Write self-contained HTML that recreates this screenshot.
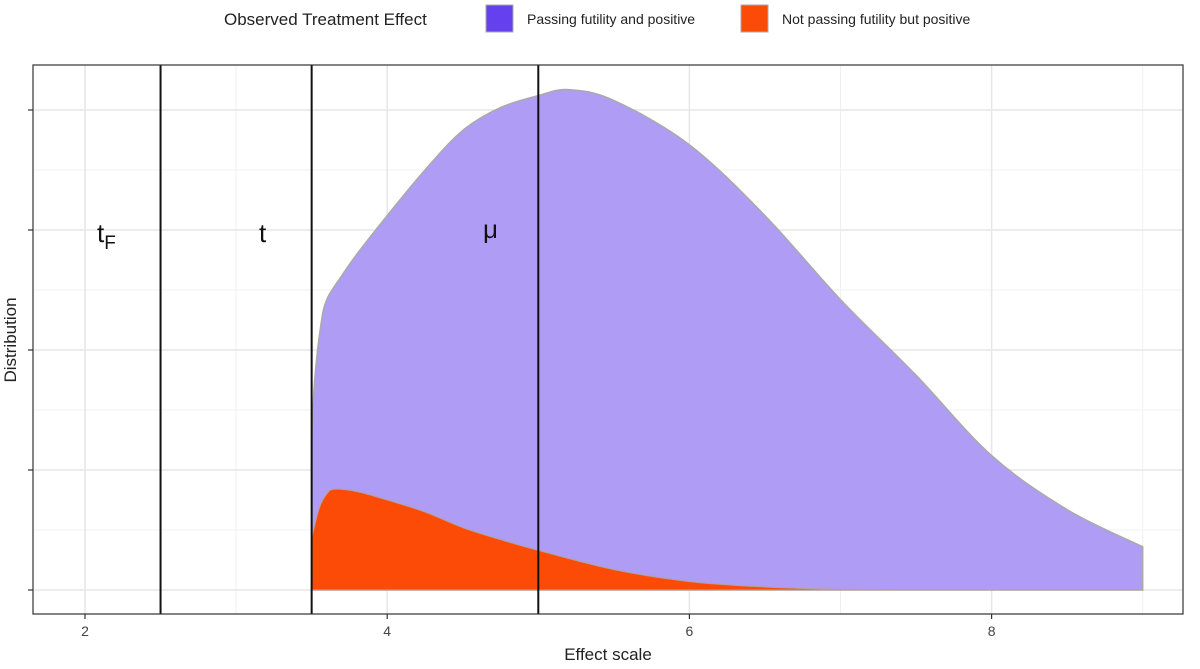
<!DOCTYPE html>
<html><head><meta charset="utf-8"><style>
body{margin:0;background:#fff;font-family:"Liberation Sans",sans-serif}
</style></head><body>
<svg width="1200" height="664" xmlns="http://www.w3.org/2000/svg" font-family="Liberation Sans, sans-serif">
<g>
<text x="224" y="25" font-size="17" fill="#222">Observed Treatment Effect</text>
<rect x="486" y="5" width="27" height="27" fill="#6540ee" stroke="#aaa"/>
<text x="527" y="24" font-size="14" fill="#222">Passing futility and positive</text>
<rect x="741" y="5" width="27" height="27" fill="#fc4a07" stroke="#aaa"/>
<text x="782" y="24" font-size="14" fill="#222">Not passing futility but positive</text>
</g>
<g id="grid"></g>
<g id="marks"></g>
<g id="vlines"></g>
<rect x="33" y="65" width="1150" height="549" fill="none" stroke="#333" stroke-width="1.2"/>
<g id="axes"></g>
<text x="97" y="242" font-size="26" fill="#111">t<tspan font-size="19" dy="7">F</tspan></text>
<text x="259" y="242" font-size="26" fill="#111">t</text>
<text x="483" y="238" font-size="26" fill="#111">μ</text>
<text x="608" y="660" font-size="17" text-anchor="middle" fill="#222">Effect scale</text>
<text transform="translate(16,340) rotate(-90)" font-size="17" text-anchor="middle" fill="#222">Distribution</text>
</svg>
<script>
const xs=[3.5,3.52,3.56,3.6,3.7,3.8,4.0,4.25,4.5,4.75,5.0,5.2,5.5,6.0,6.5,7.0,7.5,8.0,8.5,9.0];
const totalVals=[1.25,1.75,2.2,2.42,2.62,2.8,3.12,3.5,3.83,4.02,4.12,4.17,4.08,3.71,3.12,2.42,1.79,1.12,0.67,0.36];
const orangeX=[3.5,3.55,3.6,3.65,3.8,4.0,4.25,4.5,4.75,5.0,5.5,6.0,6.5,7.0,7.5,8.0,9.0];
const orangeVals=[0.43,0.68,0.8,0.84,0.82,0.75,0.65,0.52,0.42,0.33,0.17,0.07,0.025,0.005,0,0,0];
const xTicks=[2,4,6,8];
const xMinor=[3,5,7,9];
const yMajor=[0,1,2,3,4];
const yMinor=[0.5,1.5,2.5,3.5];
const vLines=[2.5,3.5,5.0];
const X=v=>85+(v-2)*151.1, Y=v=>590-v*120;
const NS="http://www.w3.org/2000/svg";
function mk(parent,tag,attrs){const e=document.createElementNS(NS,tag);for(const k in attrs)e.setAttribute(k,attrs[k]);document.getElementById(parent).appendChild(e);return e;}
yMinor.forEach(v=>{const e=mk('grid','line',{x1:33,x2:1183,y1:Y(v),y2:Y(v),stroke:'#f0f0f0','stroke-width':1});

});
xMinor.forEach(v=>{const e=mk('grid','line',{x1:X(v),x2:X(v),y1:65,y2:614,stroke:'#f0f0f0','stroke-width':1});

});
yMajor.forEach(v=>{const e=mk('grid','line',{x1:33,x2:1183,y1:Y(v),y2:Y(v),stroke:'#e6e6e6','stroke-width':1.5});


const t=mk('axes','line',{x1:28,x2:33,y1:Y(v),y2:Y(v),stroke:'#333','stroke-width':1.2});

});
xTicks.forEach(v=>{const e=mk('grid','line',{x1:X(v),x2:X(v),y1:65,y2:614,stroke:'#e6e6e6','stroke-width':1.5});


const t=mk('axes','line',{x1:X(v),x2:X(v),y1:614,y2:619,stroke:'#333','stroke-width':1.2});


const l=mk('axes','text',{x:X(v),y:636,'font-size':14,'text-anchor':'middle',fill:'#444'});l.textContent=v;

});
function area(xa,ya){
  const P=xa.map((x,i)=>[X(x),Y(ya[i])]);
  let d='M'+P[0][0]+','+Y(0)+' L'+P[0][0]+','+P[0][1];
  for(let i=0;i<P.length-1;i++){
    const p0=P[Math.max(0,i-1)],p1=P[i],p2=P[i+1],p3=P[Math.min(P.length-1,i+2)];
    const c1=[p1[0]+(p2[0]-p0[0])/6,p1[1]+(p2[1]-p0[1])/6];
    const c2=[p2[0]-(p3[0]-p1[0])/6,p2[1]-(p3[1]-p1[1])/6];
    d+=' C'+c1[0]+','+c1[1]+' '+c2[0]+','+c2[1]+' '+p2[0]+','+p2[1];
  }
  d+=' L'+P[P.length-1][0]+','+Y(0)+' Z';return d;}
const p=mk('marks','path',{d:area(xs,totalVals),fill:'#ae9cf5',stroke:'#aaa','stroke-width':1.5});


const o=mk('marks','path',{d:area(orangeX,orangeVals),fill:'#fc4a07',stroke:'#b8a090','stroke-width':1});


vLines.forEach(v=>{const e=mk('vlines','line',{x1:X(v),x2:X(v),y1:65,y2:614,stroke:'#111','stroke-width':2});

});
</script>
</body></html>
